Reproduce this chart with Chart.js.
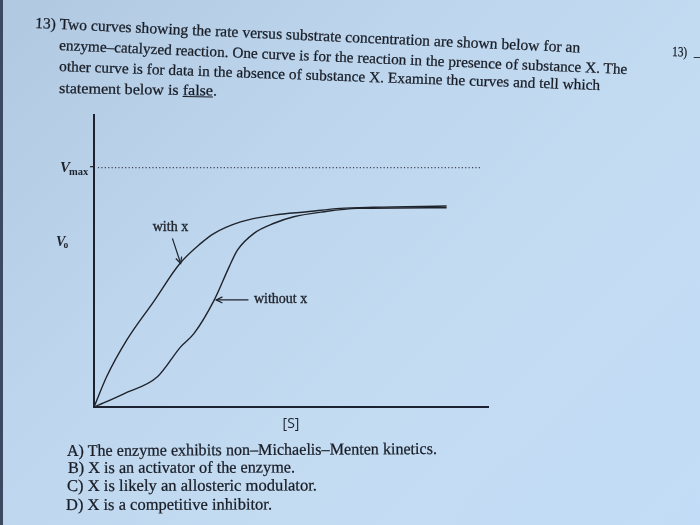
<!DOCTYPE html>
<html>
<head>
<meta charset="utf-8">
<script src="https://cdn.jsdelivr.net/npm/chart.js@4.4.1/dist/chart.umd.min.js"></script>
<style>
  html, body { margin:0; padding:0; }
  body {
    width:700px; height:525px; overflow:hidden; position:relative;
    background: linear-gradient(135deg, #b0c9e1 0%, #bdd6ed 35%, #c4dcf2 65%, #c2dcf7 100%);
  }
  #edge { position:absolute; left:0; top:0; width:3px; height:525px; background:#3a4a60; }
  #c { position:absolute; left:0; top:0; }
  .ln { position:absolute; left:0; top:0; white-space:nowrap; color:#181c26;
        -webkit-text-stroke: 0.25px #181c26; }
</style>
</head>
<body>
<div id="edge"></div>
<canvas id="c" width="700" height="525"></canvas>
<div id="txt"></div>
<script>
// ---- data ----
const S_WITH_X      = [0, 0.32, 0.83, 1.51, 2.18, 2.71, 3.05, 3.72, 4.57, 5.41, 6.25, 7.10, 8.95];
const V_WITH_X      = [0, 0.127, 0.280, 0.440, 0.600, 0.684, 0.726, 0.774, 0.802, 0.816, 0.830, 0.835, 0.840];
const S_WITHOUT_X   = [0, 0.77, 1.61, 2.20, 2.54, 3.05, 3.43, 3.64, 4.06, 4.57, 5.07, 5.83, 6.68, 8.95];
const V_WITHOUT_X   = [0, 0.057, 0.127, 0.252, 0.308, 0.447, 0.586, 0.656, 0.726, 0.768, 0.795, 0.816, 0.830, 0.833];
const VMAX = 1.0;
const V0 = 0.69;
const VMAX_LINE_S = [0.1, 9.8];
const SERIES_LABELS = ['with x', 'without x'];
const AXIS_LABELS = { x: '[S]', vmaxMain: 'V', vmaxSub: 'max', v0Main: 'V', v0Sub: 'o' };

const toPts = (xs, ys) => xs.map((s, i) => ({ x: s, y: ys[i] }));

const INK = '#1f232c';
const FONT = '"Liberation Serif", serif';

const labelPlugin = {
  id: 'labels',
  afterDraw(chart) {
    const { ctx, scales: { x, y }, chartArea } = chart;
    ctx.save();
    ctx.fillStyle = INK;
    ctx.strokeStyle = INK;
    // small tick at Vmax
    const yv = y.getPixelForValue(VMAX);
    ctx.lineWidth = 1.2;
    ctx.beginPath();
    ctx.moveTo(chartArea.left - 4, yv - 1);
    ctx.lineTo(chartArea.left, yv - 1);
    ctx.stroke();
    // Vmax label
    ctx.textBaseline = 'alphabetic';
    ctx.textAlign = 'left';
    ctx.font = 'italic bold 15px ' + FONT;
    ctx.fillText(AXIS_LABELS.vmaxMain, 60, yv + 4);
    ctx.font = 'bold 10.5px ' + FONT;
    ctx.fillText(AXIS_LABELS.vmaxSub, 69, yv + 7);
    // V0 label
    const y0 = y.getPixelForValue(V0);
    ctx.font = 'italic bold 14px ' + FONT;
    ctx.fillText(AXIS_LABELS.v0Main, 56, y0 + 4);
    ctx.font = 'bold 9.5px ' + FONT;
    ctx.fillText(AXIS_LABELS.v0Sub, 63.5, y0 + 6);

    // "with x" annotation
    ctx.font = '14px ' + FONT;
    ctx.lineWidth = 0.35;
    ctx.textAlign = 'center';
    const wx = x.getPixelForValue(1.94), wy = y.getPixelForValue(0.735);
    ctx.fillText(SERIES_LABELS[0], wx, wy);
    ctx.strokeText(SERIES_LABELS[0], wx, wy);
    drawArrow(ctx, x.getPixelForValue(1.99), y.getPixelForValue(0.705),
                   x.getPixelForValue(2.20), y.getPixelForValue(0.60));
    // "without x" annotation
    ctx.font = '14px ' + FONT;
    ctx.lineWidth = 0.35;
    ctx.textAlign = 'left';
    const ox = x.getPixelForValue(4.06), oy = y.getPixelForValue(0.435);
    ctx.fillText(SERIES_LABELS[1], ox, oy);
    ctx.strokeText(SERIES_LABELS[1], ox, oy);
    drawArrow(ctx, x.getPixelForValue(3.92), y.getPixelForValue(0.448),
                   x.getPixelForValue(3.10), y.getPixelForValue(0.448));
    ctx.restore();
  }
};

function drawArrow(ctx, x1, y1, x2, y2) {
  ctx.lineWidth = 1.2;
  ctx.beginPath();
  ctx.moveTo(x1, y1);
  ctx.lineTo(x2, y2);
  ctx.stroke();
  const a = Math.atan2(y2 - y1, x2 - x1);
  const L = 7, w = 0.45;
  ctx.beginPath();
  ctx.moveTo(x2 - L * Math.cos(a - w), y2 - L * Math.sin(a - w));
  ctx.lineTo(x2, y2);
  ctx.lineTo(x2 - L * Math.cos(a + w), y2 - L * Math.sin(a + w));
  ctx.stroke();
}

new Chart(document.getElementById('c'), {
  type: 'scatter',
  data: {
    datasets: [
      { label: SERIES_LABELS[0], data: toPts(S_WITH_X, V_WITH_X), showLine: true,
        borderColor: INK, borderWidth: 1.4, pointRadius: 0, cubicInterpolationMode: 'monotone' },
      { label: SERIES_LABELS[1], data: toPts(S_WITHOUT_X, V_WITHOUT_X), showLine: true,
        borderColor: INK, borderWidth: 1.4, pointRadius: 0, cubicInterpolationMode: 'monotone' },
      { label: 'Vmax', data: VMAX_LINE_S.map(s => ({ x: s, y: VMAX })), showLine: true,
        borderColor: '#3e4656', borderWidth: 1.2, borderDash: [1.2, 2.2], pointRadius: 0 }
    ]
  },
  options: {
    responsive: false,
    animation: false,
    events: [],
    layout: { padding: { left: 94, right: 212, top: 115, bottom: 93 } },
    plugins: { legend: { display: false }, tooltip: { enabled: false } },
    scales: {
      x: {
        type: 'linear', min: 0, max: 10,
        grid: { display: false, drawTicks: false },
        ticks: { display: false },
        border: { display: true, color: '#1d2230', width: 2 },
        title: { display: true, text: AXIS_LABELS.x, color: '#1c2230',
                 font: { family: '"Open Sans", sans-serif', size: 14 }, padding: { top: 8, bottom: 0 } }
      },
      y: {
        type: 'linear', min: 0, max: 1.22,
        grid: { display: false, drawTicks: false },
        ticks: { display: false },
        border: { display: true, color: '#1d2230', width: 2 }
      }
    }
  },
  plugins: [labelPlugin]
});

// ---- question text (real DOM text, fitted to the photo's slant) ----
function placeLine(html, x1, y1, x2, y2, size) {
  const el = document.createElement('div');
  el.className = 'ln';
  el.innerHTML = html;
  el.style.font = size + 'px ' + FONT;
  el.style.lineHeight = size + 'px';
  document.getElementById('txt').appendChild(el);
  const w = el.getBoundingClientRect().width;
  const len = Math.hypot(x2 - x1, y2 - y1);
  const ang = Math.atan2(y2 - y1, x2 - x1);
  const asc = 0.84 * size;
  el.style.left = x1 + 'px';
  el.style.top = (y1 - asc) + 'px';
  el.style.transformOrigin = '0 ' + asc + 'px';
  el.style.transform = 'rotate(' + ang + 'rad) scaleX(' + (len / w) + ')';
}

placeLine('13) Two curves showing the rate versus substrate concentration are shown below for an', 35, 28.5, 580, 53, 15.5);
placeLine('enzyme–catalyzed reaction. One curve is for the reaction in the presence of substance X. The', 59, 50.5, 627, 74.5, 15);
placeLine('other curve is for data in the absence of substance X. Examine the curves and tell which', 59, 72, 600, 91, 15);
placeLine('statement below is <u>false</u>.', 59, 93.5, 217, 96, 15);
placeLine('13)', 672, 56.5, 687, 57, 14);
placeLine('_', 694, 57, 700, 57, 14);

placeLine('A) The enzyme exhibits non–Michaelis–Menten kinetics.', 67, 456.5, 437, 454.5, 16.5);
placeLine('B) X is an activator of the enzyme.', 68, 474, 295, 473.5, 16.5);
placeLine('C) X is likely an allosteric modulator.', 67, 492, 317, 491.5, 16.5);
placeLine('D) X is a competitive inhibitor.', 66, 511, 272, 510.5, 16.5);
</script>
</body>
</html>
